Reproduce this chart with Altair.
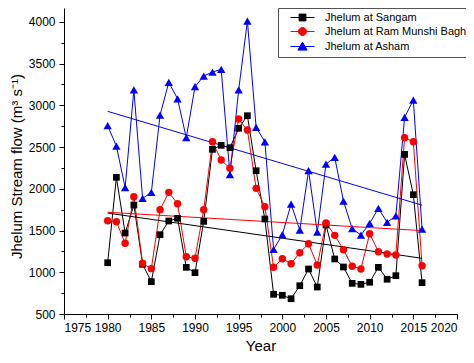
import altair as alt
import pandas as pd

years = list(range(1980, 2017))
series_names = ["Jhelum at Sangam", "Jhelum at Ram Munshi Bagh", "Jhelum at Asham"]
sangam = [1114, 2137, 1470, 1805, 1095, 887, 1450, 1614, 1646, 1059, 995, 1610, 2472, 2520,
          2492, 2724, 2875, 2216, 1638, 736, 724, 683, 839, 1039, 823, 1566, 1159, 1063, 867,
          855, 880, 1059, 916, 959, 2412, 1929, 875]
ram_munshi_bagh = [1617, 1605, 1347, 1905, 1107, 1043, 1749, 1957, 1821, 1186, 1167, 1749, 2563,
                   2344, 2245, 2835, 2704, 2005, 1785, 1059, 1162, 1102, 1234, 1342, 1087, 1590,
                   1442, 1270, 1071, 1039, 1462, 1246, 1219, 1207, 2611, 2563, 1078]
asham = [2755, 2512, 2013, 3183, 1885, 1957, 2883, 3275, 3078, 2611, 3222, 3350, 3398, 3430,
         2170, 3183, 4009, 2736, 2563, 1275, 1450, 1817, 1506, 2216, 1482, 2296, 2376, 1853,
         1522, 1446, 1586, 1766, 1598, 1674, 2855, 3063, 1518]

colors = ["#000000", "#ff0000", "#0000ff"]
shapes = ["square", "circle", "triangle-up"]
sizes = [45, 55, 70]
legend_paths = [
    "M-3,0H3M-0.85,-0.85H0.85V0.85H-0.85Z",
    "M-3,0H3M1,0A1,1,0,1,1,-1,0A1,1,0,1,1,1,0Z",
    "M-3,0H3M0,-1.1L1.15,0.9H-1.15Z",
]

y_ticks = list(range(500, 4001, 250))
x_ticks = [1975 + 2.5 * i for i in range(19)]

rows = []
for name, vals in zip(series_names, [sangam, ram_munshi_bagh, asham]):
    for yr, v in zip(years, vals):
        rows.append({"year": yr, "value": v, "series": name})
df = pd.DataFrame(rows)

FONT = "Liberation Sans"
x_enc = alt.X("year:Q", scale=alt.Scale(domain=[1975, 2020], nice=False, zero=False),
              axis=alt.Axis(title="Year", values=x_ticks, format="d",
                            labelExpr="datum.value % 5 === 0 ? datum.label : ''",
                            grid=False, labelOverlap=False,
                            tickSize={"condition": {"test": "datum.value % 5 !== 0", "value": 3}, "value": 5},
                            labelPadding=3, titlePadding=5))
y_enc = alt.Y("value:Q", scale=alt.Scale(domain=[500, 4165], nice=False, zero=False),
              axis=alt.Axis(title="Jhelum Stream flow (m³ s⁻¹)", values=y_ticks, format="d",
                            labelExpr="datum.value % 500 === 0 ? datum.label : ''",
                            grid=False, labelOverlap=False,
                            tickSize={"condition": {"test": "datum.value % 500 !== 0", "value": 3}, "value": 5},
                            labelPadding=4, titlePadding=4, titleY=158))

base = alt.Chart(df)
layers = []
for name, c in zip(series_names, colors):
    layers.append(base.transform_filter(alt.datum.series == name)
                  .mark_line(color=c, strokeWidth=1).encode(x=x_enc, y=y_enc))
for name, c in zip(series_names, colors):
    layers.append(base.transform_filter(alt.datum.series == name)
                  .transform_regression("year", "value")
                  .mark_line(color=c, strokeWidth=1).encode(x=x_enc, y=y_enc))
for name, c, s, sz in zip(series_names, colors, shapes, sizes):
    layers.append(base.transform_filter(alt.datum.series == name)
                  .mark_point(shape=s, filled=True, size=sz, color=c, opacity=1)
                  .encode(x=x_enc, y=y_enc))

leg = alt.Legend(title=None, orient="none", legendX=214, legendY=0,
                 strokeColor="#555555", fillColor="white", padding=4,
                 labelFont=FONT, labelFontSize=11, labelColor="black", labelLimit=400,
                 symbolSize=64, symbolStrokeWidth=1, symbolOffset=15,
                 labelOffset=17, rowPadding=2)
legend_layer = base.transform_filter("false").mark_point(filled=True, opacity=1).encode(
    x=x_enc, y=y_enc,
    fill=alt.Fill("series:N", scale=alt.Scale(domain=series_names, range=colors), legend=leg),
    stroke=alt.Stroke("series:N", scale=alt.Scale(domain=series_names, range=colors), legend=leg),
    shape=alt.Shape("series:N", scale=alt.Scale(domain=series_names, range=legend_paths), legend=leg),
)
layers.append(legend_layer)

chart = alt.layer(*layers).properties(
    width=393, height=306,
    autosize=alt.AutoSizeParams(type="none"),
    padding={"left": 56, "top": 0, "right": 9, "bottom": 41},
).configure_view(stroke=None).configure_axis(
    labelFont=FONT, labelFontSize=12, labelColor="black",
    titleFont=FONT, titleFontSize=15, titleFontWeight="normal", titleColor="black",
    domainColor="black", tickColor="black", domainWidth=1, tickWidth=1,
)

chart.save("out.html", embed_options={"renderer": "svg", "actions": False})
